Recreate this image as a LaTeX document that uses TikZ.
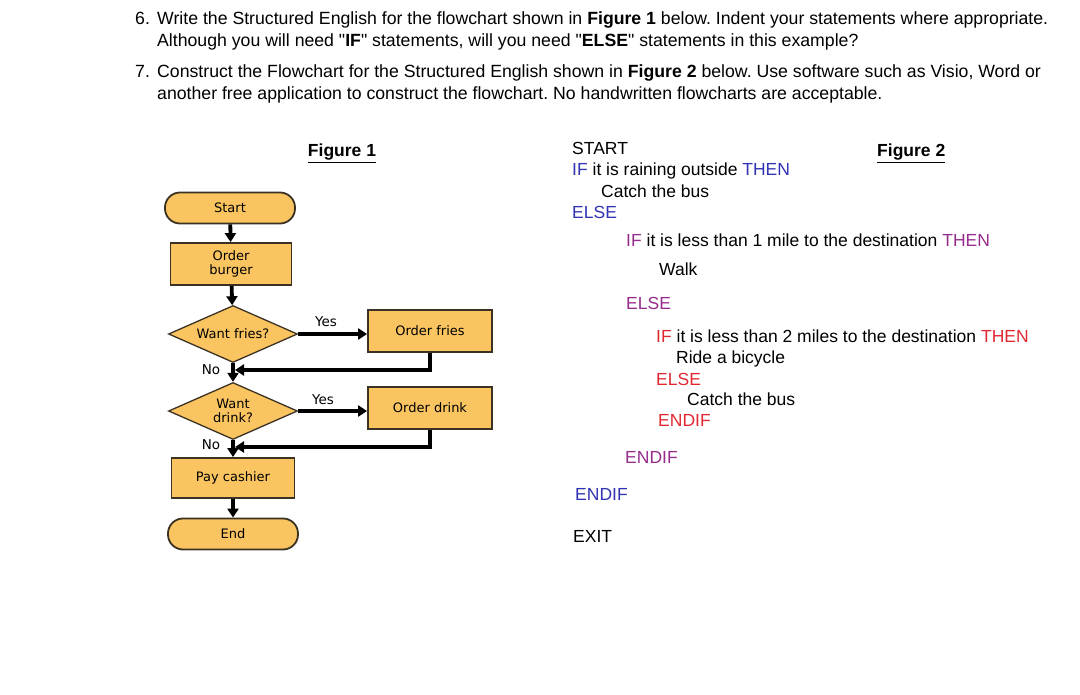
\documentclass[tikz,border=0pt]{standalone}
\usepackage{fontspec}
\setmainfont{Liberation Sans}
\newfontfamily\fcfont{DejaVu Sans}
\usetikzlibrary{shapes.geometric,arrows.meta}
\frenchspacing
\definecolor{boxfill}{RGB}{250,196,96}
\definecolor{boxline}{RGB}{60,50,35}
\definecolor{kwblue}{RGB}{50,50,180}
\definecolor{kwpurple}{RGB}{150,45,140}
\definecolor{kwred}{RGB}{225,40,50}
\tikzset{
  fcbase/.style={draw=boxline, line width=1.8pt, fill=boxfill, font=\fcfont\fontsize{13}{14}\selectfont, align=center, inner sep=0pt},
  term/.style={fcbase, minimum width=130pt, minimum height=31pt, rounded corners=15pt},
  proc/.style={fcbase, minimum width=121pt, minimum height=42pt},
  dec/.style={fcbase, line width=1.3pt, diamond, aspect=2.25, minimum width=129pt, minimum height=57pt},
  conn/.style={line width=3.8pt, -{Triangle[length=9pt,width=11pt]}},
  lbl/.style={font=\fcfont\fontsize{13.5}{14}\selectfont, inner sep=0pt},
  hdr/.style={anchor=base west, inner sep=0pt, font=\fontsize{17.68}{20}\selectfont},
  se/.style={anchor=base west, inner sep=0pt, font=\fontsize{17.5}{20}\selectfont},
}
\begin{document}
\begin{tikzpicture}[x=1pt,y=-1pt]
\useasboundingbox[fill=white] (0,0) rectangle (1080,695);
% header
\node[hdr] (n6) at (135,25) {6.};
\node[hdr] (h1) at (157,25) {Write the Structured English for the flowchart shown in \textbf{Figure 1} below. Indent your statements where appropriate.};
\node[hdr] (h2) at (157,47) {Although you will need \textquotedbl\textbf{IF}\textquotedbl\ statements, will you need \textquotedbl\textbf{ELSE}\textquotedbl\ statements in this example?};
\node[hdr] (n7) at (135,78) {7.};
\node[hdr] (h3) at (157,78) {Construct the Flowchart for the Structured English shown in \textbf{Figure 2} below. Use software such as Visio, Word or};
\node[hdr] (h4) at (157,100) {another free application to construct the flowchart. No handwritten flowcharts are acceptable.};
% Figure 1
\node[se, anchor=base] (f1) at (342,157) {\underline{\textbf{Figure 1}}};
\node[term] (start) at (230,208) {Start};
\node[proc] (burger) at (231,264) {Order\\burger};
\node[dec] (fries) at (233,334) {Want fries?};
\node[proc, minimum width=124pt] (ofries) at (430,331) {Order fries};
\node[dec] (drink) at (233,411) {Want\\drink?};
\node[proc, minimum width=124pt] (odrink) at (430,408) {Order drink};
\node[proc, minimum width=123pt, minimum height=40pt] (pay) at (233,478) {Pay cashier};
\node[term] (end) at (233,534) {End};
\coordinate (j1) at (233,370);
\coordinate (j2) at (233,447);
\draw[conn] (start) -- (burger);
\draw[conn] (burger) -- (fries);
\draw[conn] (fries.east) -- (fries.east -| ofries.west);
\draw[conn] (fries) -- (drink);
\draw[conn] (ofries.south) |- ([xshift=2pt]j1);
\draw[conn] (drink.east) -- (drink.east -| odrink.west);
\draw[conn] (drink) -- (pay);
\draw[conn] (odrink.south) |- ([xshift=2pt]j2);
\draw[conn] (pay) -- (end);
\node[lbl] (y1) at (326,322) {Yes};
\node[lbl] (y2) at (323,400) {Yes};
\node[lbl] (n1) at (211,370) {No};
\node[lbl] (n2) at (211,445) {No};
% Figure 2
\node[se] (f2) at (877,157) {\underline{\textbf{Figure 2}}};
\node[se] (s1) at (572,155) {START};
\node[se] (s2) at (572,176) {\textcolor{kwblue}{IF} it is raining outside \textcolor{kwblue}{THEN}};
\node[se] (s3) at (601,198) {Catch the bus};
\node[se, text=kwblue] (s4) at (572,219) {ELSE};
\node[se] (s5) at (626,247) {\textcolor{kwpurple}{IF} it is less than 1 mile to the destination \textcolor{kwpurple}{THEN}};
\node[se] (s6) at (659,276) {Walk};
\node[se, text=kwpurple] (s7) at (626,309) {ELSE};
\node[se] (s8) at (656,342) {\textcolor{kwred}{IF} it is less than 2 miles to the destination \textcolor{kwred}{THEN}};
\node[se] (s9) at (676,363) {Ride a bicycle};
\node[se, text=kwred] (s10) at (656,385) {ELSE};
\node[se] (s11) at (687,405) {Catch the bus};
\node[se, text=kwred] (s12) at (658,426) {ENDIF};
\node[se, text=kwpurple] (s13) at (625,463) {ENDIF};
\node[se, text=kwblue] (s14) at (575,500) {ENDIF};
\node[se] (s15) at (573,542) {EXIT};
\end{tikzpicture}
\end{document}
